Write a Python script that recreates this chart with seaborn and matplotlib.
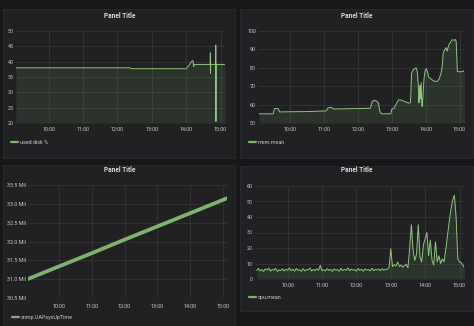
import numpy as np
import pandas as pd
import matplotlib
matplotlib.use("Agg")
import matplotlib.pyplot as plt
from matplotlib.patches import Rectangle
from matplotlib.ticker import FuncFormatter, FixedLocator
import seaborn as sns

# ---------------- data ----------------
# minutes after 09:00
disk_minutes = [3, 200, 204, 208, 300, 305, 310, 312, 313, 315, 342, 342.2, 342.5, 342.8,
                351.5, 351.7, 352.0, 352.3, 368]
disk_values = [38.0, 38.0, 37.8, 37.7, 37.7, 38.8, 40.2, 40.3, 38.4, 39.1, 39.1, 42.9, 36.2, 39.1,
               39.1, 45.4, 20.5, 39.1, 39.1]

mem_minutes = [5, 30, 32, 39, 41, 60, 90, 118, 124, 127, 133, 137, 170, 202, 205, 208, 212, 216,
               219, 222, 238, 240, 244, 248, 252, 258, 264, 270, 273, 275, 278, 283, 285, 287,
               288, 289, 290, 291, 292, 293, 294, 297, 299, 301, 303, 305, 309, 314, 320, 324,
               327, 329, 331, 333, 336, 338, 341, 344, 347, 350, 353, 354, 356, 360, 366, 370]
mem_values = [55, 55, 57.8, 57.8, 56, 56.1, 56.2, 56.5, 56.6, 58.3, 58.4, 57.6, 57.8, 58, 61.5,
              62.3, 62, 61, 56, 55, 55, 57.5, 58, 60.5, 62.6, 62.3, 61.5, 60.8, 61, 77, 79, 80,
              78, 70, 61, 66, 70.5, 63, 72, 60, 59, 74, 78.5, 79.5, 78, 75, 74, 72.8, 72.5, 74,
              77, 80, 88, 89.5, 91, 89, 92.5, 94, 95.3, 95, 95.3, 94, 78, 77.8, 78, 79]

uptime_minutes = [2, 60, 120, 180, 240, 300, 368]
uptime_values = [31.00e6, 31.34e6, 31.69e6, 32.05e6, 32.40e6, 32.75e6, 33.15e6]

cpu_start_minute = 6
cpu_step_minutes = 3
cpu_values = [
    5.5, 6.8, 5.2, 6.1, 4.9, 6.5, 5.8, 7.0, 5.0, 6.2, 5.6, 6.9, 4.8, 6.0, 5.4, 6.6, 5.1, 6.3, 5.7, 7.1,
    5.3, 6.4, 5.0, 6.8, 5.5, 6.0, 4.9, 6.7, 5.2, 6.1, 5.8, 7.0, 5.1, 6.2, 5.4, 6.6, 5.6, 8.8, 5.3, 6.0,
    5.2, 6.7, 5.5, 6.3, 4.9, 6.5, 5.7, 6.1, 5.0, 6.9, 5.4, 6.2, 5.6, 7.2, 5.3, 6.4, 5.8, 6.0, 5.1, 6.8,
    5.5, 6.3, 5.0, 6.6, 5.7, 6.1, 5.2, 6.9, 5.4, 6.2, 5.8, 6.5, 5.3, 6.7, 5.6, 6.4, 6.1, 7.4,
    19.5,
    8.0, 9.2, 8.4, 11.0, 8.1, 9.0, 7.6, 8.6, 9.5, 7.2,
    20, 35, 18, 12, 16, 35, 14, 11, 22, 26, 30, 15, 25, 12, 9, 24, 11, 15, 10, 13, 11, 19,
    28, 37, 45, 51, 54, 40, 13, 11, 10.5, 9, 7,
]

x_ticks_hours = [10, 11, 12, 13, 14, 15]
x_tick_labels = ["10:00", "11:00", "12:00", "13:00", "14:00", "15:00"]
titles = ["Panel Title", "Panel Title", "Panel Title", "Panel Title"]
legend_labels = ["used disk %", "mem.mean", "snmp.UAPsysUpTime", "cpu.mean"]

# ---------------- style ----------------
BG = "#161719"
PANEL = "#212124"
GRID = "#36373a"
TEXT = "#c8c9ca"
TITLE = "#d8d9da"
GREEN = "#7EB26D"
LINE = "#8fc77e"

sns.set_theme(style="dark", rc={
    "axes.facecolor": PANEL, "figure.facecolor": BG,
    "axes.edgecolor": PANEL, "grid.color": GRID,
    "xtick.color": TEXT, "ytick.color": TEXT, "text.color": TEXT,
})
plt.rcParams["font.family"] = ["Roboto", "DejaVu Sans"]

W, H = 474, 326
fig = plt.figure(figsize=(W / 100, H / 100), dpi=100)
fig.patch.set_facecolor(BG)


def px_axes(l, t, r, b):
    ax = fig.add_axes([l / W, 1 - b / H, (r - l) / W, (b - t) / H])
    ax.set_zorder(2)
    return ax


# background panels live in one transparent full-figure axes
bg_ax = fig.add_axes([0, 0, 1, 1])
bg_ax.set_zorder(0)
bg_ax.set_xlim(0, W)
bg_ax.set_ylim(H, 0)
bg_ax.axis("off")


def panel_rect(l, t, r, b):
    bg_ax.add_patch(Rectangle((l, t), r - l, b - t, facecolor=PANEL,
                              edgecolor="#2a2b2e", linewidth=0.6))


panel_rect(3, 9, 235, 158)
panel_rect(240, 9, 473, 158)
panel_rect(3, 165, 235, 330)
panel_rect(240, 166, 473, 311)

XLIM = (9.05, 15.13)
TICK_FS = 3.9


def style_axes(ax, ylim, yticks, fmt=None, xpad=3.0):
    ax.set_xlim(*XLIM)
    ax.set_ylim(*ylim)
    ax.xaxis.set_major_locator(FixedLocator(x_ticks_hours))
    ax.set_xticklabels(x_tick_labels)
    ax.yaxis.set_major_locator(FixedLocator(yticks))
    if fmt is not None:
        ax.yaxis.set_major_formatter(FuncFormatter(fmt))
    else:
        ax.yaxis.set_major_formatter(FuncFormatter(lambda v, p: f"{v:g}"))
    ax.tick_params(axis="both", length=0, labelsize=TICK_FS, colors=TEXT)
    ax.tick_params(axis="x", pad=xpad)
    ax.tick_params(axis="y", pad=1.5)
    ax.grid(True, color=GRID, linewidth=0.55)
    ax.set_axisbelow(True)
    for s in ax.spines.values():
        s.set_visible(False)
    ax.set_xlabel("")
    ax.set_ylabel("")


def add_legend(ax, label, x_px, y_px):
    leg = ax.legend([plt.Line2D([], [], color=GREEN, linewidth=1.6)], [label],
                    loc="center left", bbox_to_anchor=(x_px / W, 1 - y_px / H),
                    bbox_transform=fig.transFigure, frameon=False, fontsize=TICK_FS,
                    handlelength=1.2, handletextpad=0.45, borderpad=0, borderaxespad=0,
                    labelcolor=TEXT)
    return leg


def add_title(text, x_px, y_px):
    fig.text(x_px / W, 1 - y_px / H, text, ha="center", va="center",
             fontsize=4.7, fontweight="bold", color=TITLE, zorder=5)


# ---------- panel 1: used disk % ----------
ax1 = px_axes(16, 31, 225, 123)
df1 = pd.DataFrame({"t": np.array(disk_minutes) / 60 + 9, "v": disk_values})
sns.lineplot(data=df1, x="t", y="v", ax=ax1, color=LINE, linewidth=0.7,
             estimator=None, sort=False)
ax1.fill_between(df1["t"], df1["v"], 20, color=GREEN, alpha=0.12, linewidth=0)
style_axes(ax1, (20, 50), [20, 25, 30, 35, 40, 45, 50])
add_legend(ax1, legend_labels[0], 11, 142.5)
add_title(titles[0], 120, 16)

# ---------- panel 2: mem.mean ----------
ax2 = px_axes(258, 31, 464, 123)
df2 = pd.DataFrame({"t": np.array(mem_minutes) / 60 + 9, "v": mem_values})
sns.lineplot(data=df2, x="t", y="v", ax=ax2, color=LINE, linewidth=0.7,
             estimator=None, sort=False)
ax2.fill_between(df2["t"], df2["v"], 50, color=GREEN, alpha=0.12, linewidth=0)
style_axes(ax2, (50, 100), [50, 60, 70, 80, 90, 100])
add_legend(ax2, legend_labels[1], 249, 142.3)
add_title(titles[1], 357, 16)

# ---------- panel 3: uptime ----------
ax3 = px_axes(28, 185, 227, 298)
df3 = pd.DataFrame({"t": np.array(uptime_minutes) / 60 + 9, "v": uptime_values})
sns.lineplot(data=df3, x="t", y="v", ax=ax3, color=GREEN, linewidth=2.7,
             estimator=None, sort=False)
style_axes(ax3, (30.5e6, 33.5e6), [30.5e6, 31.0e6, 31.5e6, 32.0e6, 32.5e6, 33.0e6, 33.5e6],
           fmt=lambda v, p: f"{v / 1e6:.1f} Mil", xpad=4.0)
add_legend(ax3, legend_labels[2], 12, 317)
add_title(titles[2], 120, 170)

# ---------- panel 4: cpu.mean ----------
ax4 = px_axes(255, 186, 464, 279)
cpu_minutes = cpu_start_minute + cpu_step_minutes * np.arange(len(cpu_values))
df4 = pd.DataFrame({"t": cpu_minutes / 60 + 9, "v": cpu_values})
sns.lineplot(data=df4, x="t", y="v", ax=ax4, color=LINE, linewidth=0.7,
             estimator=None, sort=False)
ax4.fill_between(df4["t"], df4["v"], 0, color=GREEN, alpha=0.12, linewidth=0)
style_axes(ax4, (0, 60), [0, 10, 20, 30, 40, 50, 60])
add_legend(ax4, legend_labels[3], 249, 297.3)
add_title(titles[3], 357, 170)

fig.savefig("out.png", dpi=100, facecolor=BG)
